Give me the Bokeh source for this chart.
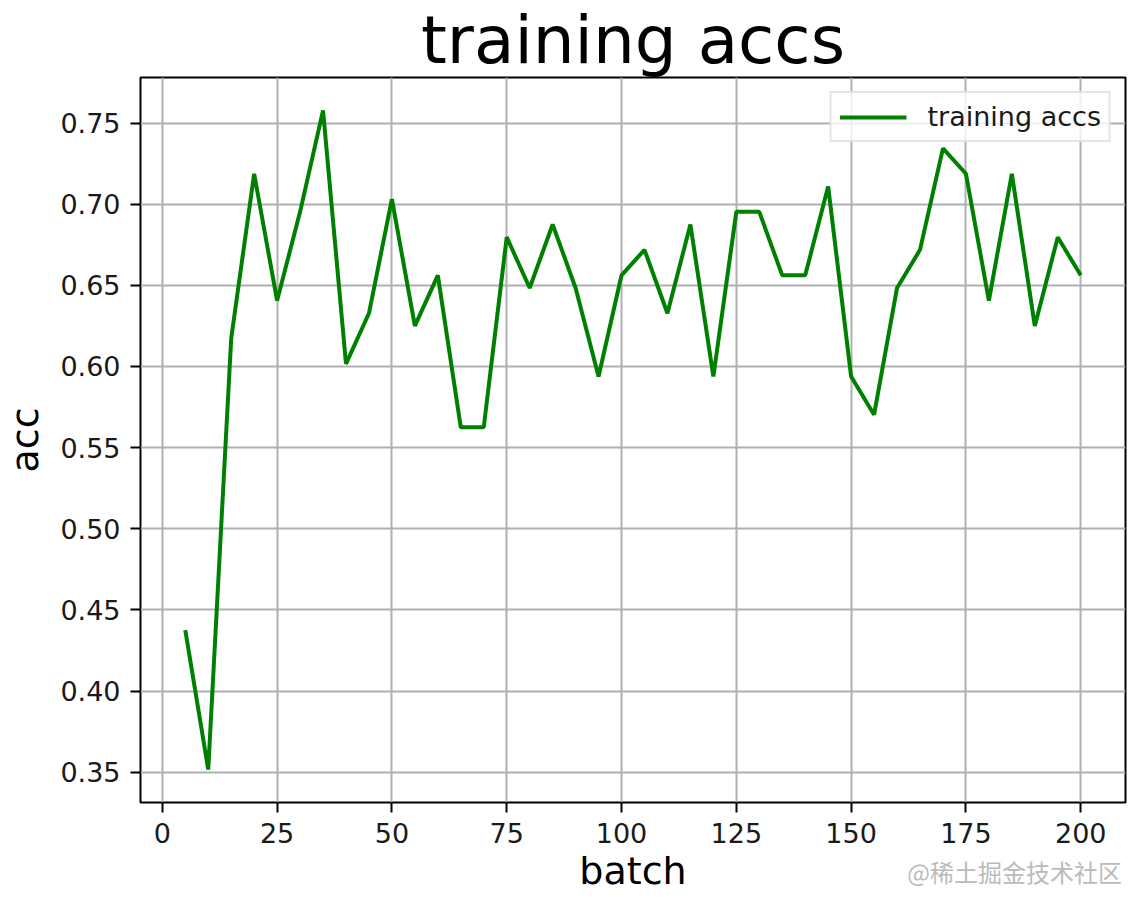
from bokeh.plotting import figure
from bokeh.models import (Range1d, FixedTicker, LinearAxis, Legend, LegendItem,
                          CustomJSTickFormatter)
from bokeh.embed import file_html
from bokeh.resources import INLINE

batches = [5, 10, 15, 20, 25, 30, 35, 40, 45, 50, 55, 60, 65, 70, 75, 80, 85, 90, 95, 100,
           105, 110, 115, 120, 125, 130, 135, 140, 145, 150, 155, 160, 165, 170, 175, 180,
           185, 190, 195, 200]
accs = [0.4375, 0.3516, 0.6172, 0.7188, 0.6406, 0.6953, 0.7578, 0.6016, 0.6328, 0.7031,
        0.6250, 0.6562, 0.5625, 0.5625, 0.6797, 0.6484, 0.6875, 0.6484, 0.5938, 0.6562,
        0.6719, 0.6328, 0.6875, 0.5938, 0.6953, 0.6953, 0.6562, 0.6562, 0.7109, 0.5938,
        0.5703, 0.6484, 0.6719, 0.7344, 0.7188, 0.6406, 0.7188, 0.6250, 0.6797, 0.6562]
x_ticks = [0, 25, 50, 75, 100, 125, 150, 175, 200]
y_ticks = [0.35, 0.40, 0.45, 0.50, 0.55, 0.60, 0.65, 0.70, 0.75]
title_text = "training accs"
series_label = "training accs"
x_label = "batch"
y_label = "acc"
watermark = "@稀土掘金技术社区"

FONT = "DejaVu Sans"

W, H = 1129, 895
BL, BR, BT, BB = 134, 4, 69, 86
frame_w = W - BL - BR

xpad = (max(batches) - min(batches)) * 0.05
ypad = (max(accs) - min(accs)) * 0.05
x0, x1 = min(batches) - xpad, max(batches) + xpad
y0, y1 = min(accs) - ypad, max(accs) + ypad
# centre of the watermark text, 879.5 px right of the frame's left edge
wm_x = round(x0 + 879.5 * (x1 - x0) / frame_w, 2)

p = figure(width=W, height=H, output_backend="svg", toolbar_location=None,
           x_range=Range1d(x0, x1), y_range=Range1d(y0, y1),
           min_border_left=BL, min_border_right=BR, min_border_top=BT, min_border_bottom=BB)
p.background_fill_color = "white"
p.border_fill_color = "white"
p.outline_line_color = "black"
p.outline_line_width = 2

p.title.text = title_text
p.title.align = "center"
p.title.text_font = FONT
p.title.text_font_size = "66px"
p.title.text_font_style = "normal"
p.title.text_color = "black"
p.title.standoff = -2
p.title.text_line_height = 0.8

r = p.line(batches, accs, line_color="#008000", line_width=4)

for ax in (p.xaxis[0], p.yaxis[0]):
    ax.axis_line_color = None
    ax.major_tick_line_color = "black"
    ax.major_tick_line_width = 2
    ax.major_tick_out = 10
    ax.major_tick_in = 0
    ax.minor_tick_line_color = None
    ax.major_label_text_font = FONT
    ax.major_label_text_font_size = "27px"
    ax.major_label_text_color = "#1a1a1a"
    ax.axis_label_text_font = FONT
    ax.axis_label_text_font_size = "38px"
    ax.axis_label_text_font_style = "normal"
    ax.axis_label_text_color = "black"

p.xaxis.ticker = FixedTicker(ticks=x_ticks)
p.yaxis.ticker = FixedTicker(ticks=y_ticks)
p.yaxis.formatter = CustomJSTickFormatter(code="return tick.toFixed(2);")
p.xaxis.major_label_standoff = 10
p.xaxis.axis_label = x_label
p.xaxis.axis_label_standoff = 3
p.yaxis.major_label_standoff = 10
p.yaxis.axis_label = y_label
p.yaxis.axis_label_standoff = 10

# watermark: a label-only axis whose negative standoff pulls its text up beside "batch"
wm_axis = LinearAxis(ticker=FixedTicker(ticks=[wm_x]),
                     formatter=CustomJSTickFormatter(args=dict(t=watermark), code="return t;"),
                     axis_line_color=None, major_tick_line_color=None,
                     minor_tick_line_color=None, major_tick_out=0, major_tick_in=0,
                     major_label_standoff=-42,
                     major_label_text_font="Noto Sans CJK SC",
                     major_label_text_font_size="24px",
                     major_label_text_color="#bbbbbb")
p.add_layout(wm_axis, "below")

p.grid.grid_line_color = "#b0b0b0"
p.grid.grid_line_width = 2
p.xgrid.ticker = FixedTicker(ticks=x_ticks)
p.ygrid.ticker = FixedTicker(ticks=y_ticks)

legend = Legend(items=[LegendItem(label=series_label, renderers=[r])],
                location="top_right", margin=14, padding=8, spacing=0,
                glyph_width=67, glyph_height=20, label_standoff=21,
                label_text_font=FONT, label_text_font_size="27px",
                label_text_color="#1a1a1a",
                border_line_color="#cccccc", border_line_width=2,
                background_fill_color="white", background_fill_alpha=0.8)
p.add_layout(legend)

open("out.html", "w").write(file_html(p, INLINE))
